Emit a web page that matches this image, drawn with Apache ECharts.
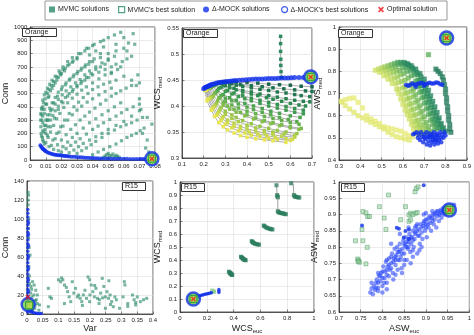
<!DOCTYPE html>
<html><head><meta charset="utf-8">
<script src="https://cdn.jsdelivr.net/npm/echarts/dist/echarts.min.js"></script>
<style>html,body{margin:0;padding:0;background:#fff}#c{width:474px;height:335px}</style>
</head><body><div id="c"></div>
<script>
// ---------------- DATA ----------------
const legendNames = ['MVMC solutions', "MVMC's best solution", 'Δ-MOCK solutions', "Δ-MOCK's best solutions", 'Optimal solution'];
const panelTitles = ['Orange', 'Orange', 'Orange', 'R15', 'R15', 'R15'];

// Panel 1: Orange, Var vs Conn
const orgVarMvmc = [
[0.007,200],[0.008,280],[0.009,350],[0.0105,420],[0.012,480],[0.014,540],[0.016,580],[0.018,620],[0.02,650],[0.0225,690],[0.025,720],[0.0275,745],[0.03,770],[0.0325,800],[0.035,820],[0.0375,840],[0.04,860],[0.045,890],[0.05,920],[0.054,940],[0.058,960],
[0.0068,250],[0.0075,300],[0.008,330],[0.009,380],[0.01,420],[0.0115,470],[0.013,520],[0.015,560],[0.017,600],[0.0195,640],[0.022,670],
[0.0072,180],[0.008,220],[0.009,260],[0.01,300],[0.011,340],[0.0125,390],[0.014,430],[0.016,470],[0.018,510],[0.0205,550],[0.023,580],[0.0255,610],[0.028,640],[0.0305,665],[0.033,690],[0.0355,715],[0.038,740],[0.041,760],
[0.008,150],[0.0095,230],[0.011,300],[0.013,370],[0.015,430],[0.0175,480],[0.02,530],[0.0225,565],[0.025,600],[0.0275,625],[0.03,650],[0.0325,675],[0.035,700],[0.0375,720],[0.04,740],[0.045,770],[0.05,800],[0.055,820],[0.06,840],
[0.0085,140],[0.01,200],[0.0115,250],[0.013,300],[0.0145,335],[0.016,370],[0.018,405],[0.02,440],[0.0225,470],[0.025,500],[0.0275,530],[0.03,560],[0.033,590],[0.036,620],[0.039,650],[0.042,680],[0.045,700],[0.048,720],
[0.009,120],[0.011,185],[0.013,250],[0.0155,315],[0.018,380],[0.021,430],[0.024,480],[0.027,515],[0.03,550],[0.0325,575],[0.035,600],[0.0375,620],[0.04,640],[0.044,660],[0.048,680],[0.052,700],[0.055,720],[0.059,740],[0.062,760],[0.065,780],
[0.012,100],[0.0145,150],[0.017,200],[0.0195,250],[0.022,300],[0.025,350],[0.028,400],[0.031,435],[0.034,470],[0.037,500],[0.04,530],[0.0435,550],[0.047,570],[0.051,585],[0.055,600],[0.06,630],
[0.015,80],[0.0175,115],[0.02,150],[0.023,190],[0.026,230],[0.029,265],[0.032,300],[0.035,330],[0.038,360],[0.0415,390],[0.045,420],[0.0485,450],[0.052,480],[0.055,500],[0.058,520],[0.0615,540],[0.065,560],[0.07,580],
[0.02,60],[0.023,85],[0.026,110],[0.029,135],[0.032,160],[0.036,195],[0.04,230],[0.0435,255],[0.047,280],[0.051,305],[0.055,330],[0.0585,355],[0.062,380],[0.066,400],[0.07,420],
[0.03,50],[0.033,70],[0.036,90],[0.039,115],[0.042,140],[0.046,170],[0.05,200],[0.054,225],[0.058,250],[0.0615,265],[0.065,280],[0.0685,300],[0.072,320],
[0.04,40],[0.0435,60],[0.047,80],[0.051,100],[0.055,120],[0.0585,145],[0.062,170],[0.065,185],[0.068,200],[0.0705,220],[0.073,240],
[0.047,20],[0.048,30],[0.049,40],[0.05,50],[0.051,35],[0.052,30],[0.053,45],[0.054,25],[0.055,35],[0.056,28],[0.057,20],[0.05,15],
[0.065,600],[0.068,560],[0.07,460],[0.072,200],[0.075,150],[0.063,880],[0.067,870],[0.06,920],[0.055,870],[0.045,800],[0.05,750],[0.075,320],[0.066,950],[0.069,640],[0.071,380],[0.074,90],[0.076,60],[0.078,270],[0.052,650],[0.058,700],[0.062,820],[0.047,850],[0.042,820],[0.038,790],
[0.0066,300],[0.007,340],[0.0075,380],[0.008,400],[0.0085,430],[0.0095,460],[0.011,500],[0.012,530],[0.0135,560],[0.015,590],[0.017,625],[0.019,655],[0.021,680],[0.024,710],[0.027,735],[0.03,760],
[0.0068,350],[0.0072,390],[0.008,450],[0.009,490],[0.01,510],[0.011,540],[0.0125,570],[0.014,600],[0.016,630],[0.0185,670],[0.021,700],[0.024,740],[0.027,770],[0.031,800],[0.036,840],[0.041,870],[0.047,900],
[0.0078,170],[0.0088,210],[0.01,260],[0.0112,300],[0.0125,340],[0.014,380],[0.016,420],[0.018,455],[0.0205,490],[0.023,520],[0.026,550],[0.029,580],[0.032,605],[0.035,640],[0.038,670],[0.042,700],[0.046,730],[0.05,760],[0.054,780],
[0.01,130],[0.0115,170],[0.013,210],[0.015,260],[0.017,310],[0.019,350],[0.0215,395],[0.024,430],[0.027,465],[0.03,495],[0.033,525],[0.036,550],[0.04,580],[0.044,610],[0.048,640],[0.052,660],[0.056,680],
[0.0135,110],[0.016,160],[0.0185,210],[0.021,255],[0.024,300],[0.027,340],[0.03,375],[0.033,405],[0.0365,435],[0.04,460],[0.044,490],[0.048,515],[0.052,540],
[0.018,70],[0.021,100],[0.024,135],[0.027,170],[0.03,200],[0.034,240],[0.038,280],[0.042,310],[0.046,340],[0.05,370],[0.054,400],[0.058,430],
[0.025,55],[0.028,75],[0.031,100],[0.034,125],[0.038,150],[0.042,175],[0.046,200],[0.05,230],[0.055,260],[0.06,290],[0.065,330],[0.07,370]
];
const orgVarMock = [[0.0065,110],[0.007,100],[0.0075,92],[0.008,85],[0.0085,80],[0.009,75],[0.0095,70],[0.01,65],[0.011,58],[0.012,52],[0.013,48],[0.014,45],[0.015,42],[0.016,40],[0.017,38],[0.018,36],[0.019,35],[0.02,33],[0.021,32],[0.022,31],[0.023,30],[0.024,28],[0.025,27],[0.0265,25],[0.028,24],[0.0295,22],[0.031,21],[0.0325,20],[0.034,18],[0.0355,17],[0.037,16],[0.0385,15],[0.04,15],[0.0415,14],[0.043,13],[0.0445,12],[0.046,12],[0.048,11],[0.05,11],[0.052,10],[0.054,10],[0.056,9],[0.058,9],[0.06,9],[0.062,9],[0.064,8],[0.066,8],[0.068,8],[0.07,8],[0.0715,8],[0.073,8]];
const orgVarBest = [0.078, 10];

// Panel 2: Orange, WCS_euc vs WCS_med (curves, top = dark green .. bottom = yellow)
const orgWcsCurves = [
[[0.3,0.447],[0.35,0.446],[0.4,0.445],[0.45,0.444],[0.5,0.442],[0.55,0.441],[0.6,0.44],[0.65,0.438],[0.7,0.437]],
[[0.29,0.446],[0.33,0.443],[0.37,0.441],[0.42,0.439],[0.47,0.437],[0.52,0.435],[0.57,0.433],[0.62,0.431],[0.67,0.429],[0.7,0.428]],
[[0.28,0.445],[0.32,0.442],[0.35,0.44],[0.38,0.438],[0.42,0.435],[0.46,0.432],[0.5,0.43],[0.54,0.427],[0.58,0.425],[0.62,0.422],[0.65,0.42],[0.69,0.418]],
[[0.27,0.444],[0.3,0.439],[0.34,0.434],[0.38,0.43],[0.42,0.427],[0.46,0.423],[0.5,0.42],[0.54,0.417],[0.58,0.414],[0.62,0.411],[0.66,0.409],[0.69,0.408]],
[[0.26,0.443],[0.29,0.439],[0.32,0.435],[0.35,0.431],[0.38,0.427],[0.42,0.423],[0.45,0.42],[0.49,0.416],[0.52,0.413],[0.56,0.409],[0.6,0.405],[0.64,0.402],[0.67,0.4]],
[[0.255,0.442],[0.28,0.436],[0.31,0.43],[0.34,0.425],[0.38,0.42],[0.42,0.415],[0.46,0.411],[0.5,0.407],[0.54,0.403],[0.58,0.399],[0.62,0.395],[0.66,0.392]],
[[0.25,0.44],[0.27,0.434],[0.3,0.428],[0.33,0.423],[0.36,0.418],[0.39,0.414],[0.42,0.41],[0.46,0.405],[0.5,0.4],[0.54,0.396],[0.58,0.392],[0.62,0.388],[0.66,0.385]],
[[0.245,0.439],[0.265,0.43],[0.29,0.422],[0.32,0.416],[0.35,0.411],[0.39,0.405],[0.43,0.4],[0.47,0.395],[0.51,0.39],[0.55,0.386],[0.6,0.381],[0.645,0.378]],
[[0.24,0.438],[0.26,0.428],[0.28,0.42],[0.3,0.415],[0.33,0.41],[0.36,0.404],[0.4,0.398],[0.43,0.393],[0.47,0.388],[0.51,0.383],[0.55,0.378],[0.59,0.374],[0.63,0.37]],
[[0.235,0.436],[0.255,0.425],[0.275,0.416],[0.3,0.408],[0.33,0.402],[0.36,0.396],[0.4,0.39],[0.44,0.385],[0.48,0.38],[0.52,0.376],[0.56,0.372],[0.6,0.368],[0.64,0.365]],
[[0.23,0.435],[0.25,0.424],[0.27,0.415],[0.29,0.407],[0.31,0.4],[0.34,0.394],[0.37,0.388],[0.4,0.383],[0.44,0.377],[0.48,0.372],[0.52,0.368],[0.56,0.364],[0.6,0.36],[0.65,0.357]],
[[0.225,0.434],[0.245,0.42],[0.265,0.41],[0.29,0.401],[0.32,0.394],[0.35,0.388],[0.39,0.381],[0.43,0.375],[0.47,0.37],[0.51,0.366],[0.55,0.362],[0.6,0.358],[0.64,0.355]],
[[0.22,0.434],[0.24,0.418],[0.26,0.405],[0.28,0.397],[0.3,0.39],[0.33,0.383],[0.35,0.378],[0.38,0.372],[0.42,0.366],[0.46,0.361],[0.5,0.357],[0.54,0.353],[0.58,0.35],[0.63,0.347]],
[[0.218,0.433],[0.235,0.416],[0.255,0.402],[0.275,0.393],[0.3,0.384],[0.33,0.376],[0.36,0.37],[0.4,0.363],[0.44,0.358],[0.48,0.353],[0.52,0.35],[0.57,0.346],[0.62,0.343]],
[[0.215,0.432],[0.23,0.415],[0.25,0.4],[0.27,0.389],[0.29,0.38],[0.31,0.373],[0.34,0.367],[0.37,0.361],[0.4,0.356],[0.44,0.352],[0.48,0.348],[0.52,0.345],[0.56,0.342],[0.62,0.34]],
[[0.212,0.431],[0.225,0.413],[0.245,0.397],[0.265,0.385],[0.285,0.376],[0.31,0.368],[0.34,0.361],[0.37,0.356],[0.41,0.35],[0.45,0.346],[0.49,0.343],[0.53,0.34],[0.58,0.337],[0.61,0.336]],
[[0.21,0.43],[0.22,0.414],[0.24,0.395],[0.26,0.382],[0.28,0.372],[0.3,0.365],[0.33,0.358],[0.36,0.352],[0.39,0.348],[0.42,0.344],[0.46,0.341],[0.5,0.338],[0.54,0.336],[0.6,0.334]],
[[0.205,0.43],[0.215,0.41],[0.235,0.392],[0.25,0.38],[0.27,0.368],[0.29,0.36],[0.31,0.354],[0.34,0.348],[0.37,0.343],[0.4,0.34],[0.44,0.337],[0.48,0.335],[0.52,0.333],[0.58,0.33]]
];
const orgWcsSpike = [[0.555,0.534],[0.555,0.52],[0.555,0.505],[0.556,0.49],[0.556,0.478],[0.557,0.466],[0.558,0.455]];
const orgWcsMock = [[0.2,0.433],[0.205,0.435],[0.21,0.436],[0.215,0.437],[0.22,0.438],[0.225,0.439],[0.23,0.44],[0.235,0.441],[0.24,0.442],[0.25,0.443],[0.26,0.444],[0.27,0.445],[0.28,0.4455],[0.29,0.446],[0.3,0.4465],[0.31,0.447],[0.32,0.4475],[0.33,0.448],[0.34,0.4485],[0.35,0.449],[0.365,0.4495],[0.38,0.45],[0.395,0.4505],[0.41,0.451],[0.425,0.4515],[0.44,0.452],[0.455,0.452],[0.47,0.452],[0.485,0.4525],[0.5,0.453],[0.515,0.453],[0.53,0.453],[0.545,0.4535],[0.56,0.454],[0.575,0.454],[0.59,0.454],[0.605,0.4545],[0.62,0.455],[0.64,0.455],[0.66,0.455]];
const orgWcsBest = [0.694, 0.456];

// Panel 3: Orange, x vs AWS_med (strands: left yellow .. right dark green)
const orgAswStrands = [
[[0.31,0.665],[0.33,0.672],[0.35,0.678],[0.37,0.68],[0.39,0.66],[0.41,0.635],[0.43,0.6],[0.45,0.585],[0.47,0.575],[0.49,0.565],[0.51,0.55],[0.53,0.545],[0.55,0.54],[0.57,0.535],[0.59,0.53],[0.61,0.52],[0.63,0.51],[0.645,0.505]],
[[0.315,0.66],[0.33,0.645],[0.35,0.63],[0.37,0.615],[0.39,0.6],[0.41,0.59],[0.43,0.58],[0.45,0.57],[0.47,0.56],[0.49,0.55],[0.51,0.54],[0.53,0.525],[0.55,0.515],[0.57,0.505],[0.59,0.5],[0.61,0.495],[0.63,0.49]],
[[0.47,0.805],[0.49,0.795],[0.51,0.78],[0.53,0.765],[0.55,0.745],[0.57,0.72],[0.58,0.7],[0.59,0.675],[0.6,0.65],[0.61,0.625],[0.62,0.605],[0.63,0.585],[0.64,0.56],[0.65,0.54],[0.66,0.52]],
[[0.485,0.81],[0.505,0.8],[0.525,0.785],[0.545,0.765],[0.565,0.745],[0.58,0.72],[0.595,0.695],[0.605,0.67],[0.615,0.645],[0.625,0.62],[0.635,0.6],[0.645,0.575],[0.655,0.555],[0.665,0.535],[0.675,0.515]],
[[0.5,0.815],[0.52,0.805],[0.54,0.79],[0.56,0.77],[0.58,0.75],[0.6,0.725],[0.61,0.7],[0.62,0.675],[0.63,0.65],[0.64,0.625],[0.65,0.6],[0.66,0.575],[0.67,0.555],[0.68,0.535],[0.69,0.52]],
[[0.515,0.82],[0.535,0.81],[0.555,0.795],[0.575,0.775],[0.595,0.755],[0.61,0.73],[0.62,0.705],[0.63,0.68],[0.64,0.655],[0.65,0.63],[0.66,0.605],[0.67,0.58],[0.68,0.56],[0.69,0.54],[0.7,0.52]],
[[0.53,0.825],[0.55,0.815],[0.57,0.8],[0.59,0.785],[0.61,0.76],[0.63,0.735],[0.64,0.71],[0.65,0.685],[0.66,0.66],[0.67,0.635],[0.68,0.61],[0.69,0.585],[0.7,0.56],[0.71,0.54],[0.72,0.525]],
[[0.545,0.83],[0.565,0.82],[0.585,0.805],[0.605,0.79],[0.625,0.77],[0.64,0.745],[0.65,0.72],[0.66,0.695],[0.67,0.67],[0.68,0.645],[0.69,0.62],[0.7,0.595],[0.71,0.57],[0.72,0.55],[0.73,0.53]],
[[0.56,0.835],[0.58,0.83],[0.6,0.815],[0.62,0.8],[0.64,0.78],[0.66,0.755],[0.67,0.73],[0.68,0.705],[0.69,0.68],[0.7,0.655],[0.71,0.63],[0.72,0.605],[0.73,0.58],[0.74,0.56],[0.75,0.54],[0.72,0.875]],
[[0.575,0.84],[0.595,0.835],[0.615,0.82],[0.635,0.805],[0.655,0.785],[0.67,0.76],[0.68,0.735],[0.69,0.71],[0.7,0.685],[0.71,0.66],[0.72,0.635],[0.73,0.61],[0.74,0.585],[0.75,0.565],[0.76,0.545]],
[[0.59,0.84],[0.61,0.835],[0.63,0.825],[0.65,0.805],[0.67,0.785],[0.68,0.76],[0.69,0.735],[0.7,0.71],[0.71,0.685],[0.72,0.66],[0.73,0.635],[0.74,0.61],[0.75,0.585],[0.76,0.565],[0.77,0.545]],
[[0.605,0.84],[0.625,0.83],[0.645,0.815],[0.665,0.795],[0.685,0.775],[0.695,0.75],[0.705,0.725],[0.715,0.7],[0.725,0.675],[0.735,0.65],[0.745,0.625],[0.755,0.6],[0.765,0.58],[0.775,0.56],[0.785,0.54]],
[[0.62,0.835],[0.64,0.825],[0.66,0.81],[0.68,0.79],[0.7,0.765],[0.71,0.74],[0.72,0.715],[0.73,0.69],[0.74,0.665],[0.75,0.64],[0.76,0.615],[0.77,0.59],[0.78,0.565],[0.79,0.545],[0.8,0.53]],
[[0.755,0.81],[0.765,0.8],[0.775,0.79],[0.785,0.775],[0.79,0.76],[0.795,0.74],[0.8,0.72],[0.8,0.7],[0.805,0.68],[0.805,0.66],[0.81,0.64],[0.81,0.62],[0.815,0.6],[0.815,0.58],[0.82,0.56],[0.82,0.54],[0.825,0.525]]
];
const orgAswMock = [[0.615,0.738],[0.625,0.735],[0.635,0.74],[0.645,0.745],[0.655,0.74],[0.66,0.73],[0.665,0.742],[0.675,0.745],[0.685,0.748],[0.695,0.745],[0.7,0.735],[0.705,0.742],[0.715,0.745],[0.725,0.748],[0.735,0.745],[0.745,0.745],[0.755,0.75],[0.765,0.748],[0.775,0.742],[0.785,0.74],
[0.648,0.516],[0.655,0.52],[0.665,0.525],[0.67,0.5],[0.675,0.515],[0.68,0.49],[0.685,0.525],[0.69,0.505],[0.695,0.48],[0.7,0.515],[0.705,0.495],[0.71,0.525],[0.712,0.47],[0.715,0.505],[0.72,0.485],[0.725,0.52],[0.728,0.465],[0.73,0.5],[0.735,0.48],[0.738,0.515],[0.74,0.49],[0.745,0.525],[0.748,0.47],[0.75,0.505],[0.755,0.485],[0.758,0.52],[0.76,0.495],[0.765,0.475],[0.768,0.51],[0.77,0.49],[0.775,0.525],[0.778,0.5],[0.78,0.48],[0.785,0.515],[0.79,0.5],[0.795,0.525],[0.8,0.51],[0.72,0.505],[0.74,0.505],[0.76,0.51],[0.7,0.5],[0.73,0.51],[0.75,0.49]];
const orgAswBest = [0.805, 0.95];

// Panel 4: R15, Var vs Conn
const r15VarMvmc = [[0.068,27],[0.073,18],[0.078,16.5],[0.04,9.5],[0.1,36],[0.107,34],[0.114,36],[0.119,30.5],[0.129,23.5],[0.134,18],[0.139,13],[0.144,34],[0.149,22],[0.154,27],[0.164,20],[0.169,16.5],[0.174,13],[0.179,20],[0.184,25],[0.189,16.5],[0.194,39],[0.199,36],[0.204,30.5],[0.209,23.5],[0.214,18],[0.219,27],[0.224,16.5],[0.229,11],[0.234,22],[0.239,37.5],[0.244,29],[0.249,18],[0.254,23.5],[0.259,16.5],[0.264,20],[0.269,13],[0.274,7.7],[0.279,18],[0.284,15],[0.305,18],[0.309,34],[0.311,30.5],[0.32,11],[0.335,20],[0.34,15],[0.345,9.5],[0.35,18],[0.36,13],[0.38,16.5],[0.068,7.7],[0.119,11],[0.199,13],[0.249,6],[0.294,6],[0.11,38],[0.125,28],[0.16,18],[0.176,9],[0.2,20],[0.215,30],[0.23,15],[0.26,35],[0.265,10],[0.32,8],[0.345,12],[0.37,15],[0.24,17],
[0.008,32],[0.013,29],[0.018,34],[0.023,30.5],[0.028,25],[0.033,20],[0.016,18],[0.02,13],[0.026,9.5],[0.01,15],[0.03,15],[0.033,11],[0.038,4],[0.012,22],[0.022,20],[0.027,14],[0.015,26],[0.025,6],[0.018,4],
[0.004,115],[0.004,120],[0.005,125],[0.004,128],[0.006,100],[0.005,80],[0.008,40],[0.01,62],[0.006,50],[0.007,70],[0.005,90]];
const r15VarMock = [[0.003,2],[0.003,6],[0.003,10],[0.003,14],[0.003,18],[0.003,22],[0.003,26],[0.003,30],[0.003,34],[0.003,38],[0.003,42],[0.003,46],[0.003,50],[0.003,54],[0.003,58],[0.003,62],[0.003,66],[0.003,70],[0.003,74],[0.003,78],[0.003,82],[0.003,86],[0.003,90],[0.003,94],[0.003,98],[0.003,102],[0.003,106],[0.003,110],
[0.005,4],[0.005,12],[0.005,24],[0.005,36],[0.005,48],[0.005,60],[0.005,72],[0.005,84],[0.005,96],
[0.006,5],[0.008,4],[0.01,3],[0.013,2.5],[0.016,2],[0.02,1.5],[0.025,1],[0.03,0.8],[0.035,0.6],[0.04,0.5],[0.045,0.4]];
const r15VarBest = [0.004, 10];
const r15VarMvmcBest = [0.007, 9];
const r15VarOptimal = [0.003, 18];

// Panel 5: R15, WCS_euc vs WCS_med
const r15WcsMvmc = [[0.365,0.31],[0.37,0.305],[0.373,0.3],[0.377,0.297],[0.38,0.295],[0.383,0.29],[0.387,0.287],[0.39,0.285],
[0.455,0.425],[0.46,0.42],[0.465,0.415],[0.47,0.41],[0.475,0.405],[0.48,0.403],[0.485,0.4],[0.49,0.398],
[0.535,0.545],[0.54,0.54],[0.545,0.535],[0.55,0.53],[0.56,0.525],[0.57,0.522],[0.58,0.52],[0.59,0.518],
[0.625,0.665],[0.63,0.66],[0.64,0.652],[0.65,0.647],[0.66,0.643],[0.67,0.64],[0.68,0.637],[0.69,0.635],
[0.73,0.775],[0.735,0.77],[0.74,0.765],[0.75,0.762],[0.76,0.76],[0.77,0.758],[0.78,0.755],[0.79,0.752],
[0.725,0.9],[0.727,0.89],[0.73,0.882],
[0.85,0.9],[0.855,0.89],[0.86,0.887],[0.87,0.885],[0.88,0.882],[0.89,0.88],
[0.72,0.975],[0.83,0.99]];
const r15WcsMvmcLight = [[0.24,0.165],[0.25,0.16],[0.255,0.155]];
const r15WcsLinks = [[[0.72,0.975],[0.725,0.9]],[[0.73,0.882],[0.73,0.775]],[[0.83,0.99],[0.845,0.985],[0.85,0.9]]];
const r15WcsMock = [[0.115,0.11],[0.125,0.115],[0.135,0.12],[0.145,0.123],[0.155,0.127],[0.165,0.13],[0.175,0.133],[0.185,0.136],[0.195,0.138],[0.205,0.14],[0.215,0.143],[0.225,0.146],[0.235,0.148],[0.29,0.15],[0.29,0.162],[0.29,0.174]];
const r15WcsBest = [0.1, 0.1];

// Panel 6: R15, ASW_euc vs ASW_med
const r15AswMvmc = [[0.738,0.819],[0.755,0.819],[0.753,0.854],[0.755,0.909],[0.762,0.905],[0.766,0.894],[0.77,0.894],[0.765,0.799],[0.743,0.763],[0.745,0.758],[0.747,0.753],[0.762,0.748],[0.814,0.96],[0.793,0.924],[0.804,0.889],[0.808,0.854],[0.853,0.924],[0.842,0.884],[0.861,0.899],[0.865,0.904],[0.876,0.904],[0.88,0.906],[0.875,0.97],[0.878,0.98],[0.882,0.985],[0.861,0.879],[0.865,0.884],[0.87,0.9],[0.744,0.756]];
const r15AswMockDark = [[0.895,0.99],[0.753,0.866],[0.833,0.859],[0.838,0.856],[0.853,0.849],[0.861,0.854],[0.849,0.829],[0.861,0.824]];
const r15AswMock = [[0.772,0.66],[0.775,0.672],[0.778,0.655],[0.78,0.68],[0.783,0.668],[0.785,0.69],[0.787,0.7],[0.79,0.675],[0.792,0.712],[0.795,0.695],[0.797,0.72],[0.8,0.705],[0.802,0.74],[0.804,0.69],[0.806,0.725],[0.808,0.755],[0.81,0.715],[0.812,0.74],[0.815,0.765],[0.817,0.73],[0.82,0.75],[0.822,0.78],[0.824,0.72],[0.826,0.765],[0.828,0.795],[0.83,0.745],[0.832,0.775],[0.834,0.8],[0.836,0.76],[0.838,0.785],[0.84,0.81],[0.842,0.77],[0.844,0.735],[0.846,0.795],[0.848,0.82],[0.85,0.78],[0.852,0.805],[0.854,0.83],[0.856,0.76],[0.858,0.795],[0.86,0.815],[0.862,0.84],[0.864,0.785],[0.866,0.81],[0.868,0.83],[0.87,0.85],[0.872,0.8],[0.874,0.825],[0.876,0.845],[0.878,0.865],[0.88,0.78],[0.882,0.835],[0.884,0.855],[0.886,0.81],[0.888,0.87],[0.89,0.845],[0.892,0.825],[0.894,0.865],[0.896,0.88],[0.898,0.85],[0.9,0.87],[0.902,0.83],[0.904,0.885],[0.906,0.86],[0.908,0.895],[0.91,0.875],[0.912,0.85],[0.914,0.89],[0.916,0.9],[0.918,0.87],[0.92,0.885],[0.922,0.905],[0.924,0.86],[0.926,0.895],[0.928,0.91],[0.93,0.88],[0.932,0.9],[0.934,0.915],[0.936,0.89],[0.938,0.905],[0.94,0.92],[0.942,0.9],[0.944,0.91],[0.946,0.925],[0.948,0.905],[0.95,0.92],[0.81,0.69],[0.83,0.715],[0.85,0.745],[0.87,0.77],[0.89,0.8],[0.8,0.68],[0.79,0.665],[0.815,0.71],[0.835,0.73],[0.855,0.8],[0.875,0.86],[0.895,0.9],[0.915,0.91],[0.86,0.86],[0.84,0.84],[0.9,0.905],[0.82,0.81],[0.965,0.93],[0.96,0.915],[0.8,0.66],[0.81,0.67],[0.825,0.7],[0.845,0.72],[0.865,0.75],[0.885,0.79],
[0.785,0.675],[0.79,0.69],[0.795,0.71],[0.8,0.725],[0.805,0.705],[0.81,0.73],[0.815,0.745],[0.82,0.735],[0.825,0.755],[0.83,0.77],[0.835,0.785],[0.84,0.76],[0.845,0.78],[0.85,0.81],[0.855,0.815],[0.86,0.8],[0.865,0.83],[0.87,0.82],[0.875,0.84],[0.88,0.85],[0.885,0.835],[0.89,0.86],[0.895,0.875],[0.9,0.885],[0.905,0.87],[0.91,0.89],[0.915,0.88],[0.92,0.9],[0.925,0.91],[0.93,0.9],[0.935,0.91],[0.94,0.91],[0.945,0.915],[0.95,0.905],[0.955,0.925],[0.82,0.77],[0.84,0.79],[0.86,0.825],[0.88,0.87],[0.9,0.86],[0.87,0.79],[0.85,0.76],[0.83,0.76],[0.81,0.76],[0.79,0.72],[0.775,0.69]];
const r15AswBest = [0.954, 0.914];

// ---------------- STYLE ----------------
const FONT = 'Liberation Sans, Arial, sans-serif';
const GREEN = '#2a8a6a';
const BLUE = '#1030e8';
const RED = '#e8161b';
const CROSS = 'path://M2,0L5,3L8,0L10,2L7,5L10,8L8,10L5,7L2,10L0,8L3,5L0,2Z';
const wcsColors = ['#1b664c','#1f704e','#23794f','#288250','#2e8a51','#359251','#3e9a50','#49a24f','#56a94e','#64b04d','#74b74c','#85be4b','#97c54a','#a9cc4a','#bbd34b','#cdda4c','#dde04e','#ebe653'];
const aswColors = ['#e7ec78','#e2e974','#d4e36b','#c6dc66','#b5d65e','#a0cd5d','#8cc65a','#76b85c','#5fae5f','#4ea45f','#3d9a63','#349262','#2a8a63','#257c5c'];

const grids = [
  {left:21, top:27, width:134, height:133},
  {left:182, top:28, width:130, height:130},
  {left:339, top:27, width:133, height:133},
  {left:21, top:181, width:132, height:133},
  {left:180, top:182, width:134, height:133},
  {left:339, top:182, width:133, height:132}
].map(g => Object.assign(g, {show:true, borderColor:'#333', borderWidth:0.8, backgroundColor:'#fff'}));

const rich = {m:{fontSize:9, color:'#222', fontFamily:FONT}, s:{fontSize:6, color:'#222', fontFamily:FONT, padding:[5,0,0,0]}};
function ax(gi, min, max, interval, name, nameGap) {
  return {
    gridIndex: gi, type:'value', min, max, interval,
    name: name || '', nameLocation:'middle', nameGap: nameGap || 10,
    nameTextStyle:{fontSize:9, color:'#222', fontFamily:FONT, rich},
    axisLine:{show:true, onZero:false, lineStyle:{color:'#333', width:0.8}},
    axisTick:{show:true, inside:true, length:2.5, lineStyle:{color:'#333', width:0.6}},
    axisLabel:{fontSize:6, color:'#222', margin:3, fontFamily:FONT, formatter: v => String(+v.toFixed(4))},
    splitLine:{show:true, lineStyle:{color:'#dedede', width:0.6}}
  };
}
const xAxes = [
  ax(0, 0, 0.08, 0.01),
  ax(1, 0.1, 0.7, 0.1),
  ax(2, 0.3, 0.9, 0.1),
  ax(3, 0, 0.4, 0.05, 'Var', 10),
  ax(4, 0, 1, 0.2, '{m|WCS}{s|euc}', 11),
  ax(5, 0.7, 1, 0.05, '{m|ASW}{s|euc}', 11)
];
const yAxes = [
  ax(0, 0, 1000, 100, 'Conn', 14),
  ax(1, 0.3, 0.55, 0.05, '{m|WCS}{s|med}', 19),
  ax(2, 0.4, 1, 0.1, '{m|AWS}{s|med}', 16),
  ax(3, 0, 140, 20, 'Conn', 14),
  ax(4, 0, 1, 0.1, '{m|WCS}{s|med}', 17),
  ax(5, 0.6, 1, 0.05, '{m|ASW}{s|med}', 19)
];

const series = [];
function sc(gi, name, data, size, color, extra) {
  series.push(Object.assign({type:'scatter', name, xAxisIndex:gi, yAxisIndex:gi, data, symbol:'rect', symbolSize:size, silent:true, animation:false, itemStyle:{color}}, extra || {}));
}
function ln(gi, name, data, color, extra) {
  series.push(Object.assign({type:'line', name, xAxisIndex:gi, yAxisIndex:gi, data, symbol:'rect', symbolSize:3.5, showSymbol:true, silent:true, animation:false, itemStyle:{color}, lineStyle:{color:'#333', width:0.5, opacity:0.8}}, extra || {}));
}
function best(gi, p, mvmcP, optP) {
  sc(gi, legendNames[3], [p], 13, 'rgba(0,0,0,0)', {symbol:'circle', z:10, itemStyle:{color:'#7fd04a', borderColor:BLUE, borderWidth:2.5}});
  sc(gi, legendNames[1], [mvmcP || p], 7, '#b5dc4a', {symbol:'rect', z:11, itemStyle:{color:'#b5dc4a', borderColor:'#1f9a3f', borderWidth:1.3}});
  sc(gi, legendNames[4], [optP || p], 5, RED, {symbol:CROSS, z:12});
}

// Panel 1
sc(0, legendNames[0], orgVarMvmc, 3.2, 'rgba(42,138,106,0.8)');
sc(0, legendNames[2], orgVarMock, 4, BLUE, {symbol:'circle'});
best(0, orgVarBest);
// Panel 2
orgWcsCurves.forEach((c, i) => ln(1, legendNames[0], c, wcsColors[i]));
ln(1, legendNames[0], orgWcsSpike, '#2f8a60', {lineStyle:{color:'#555', width:0.5}});
sc(1, legendNames[2], orgWcsMock, 5, BLUE, {symbol:'circle', z:5});
best(1, orgWcsBest);
// Panel 3
orgAswStrands.forEach((c, i) => sc(2, legendNames[0], c, 4.5, aswColors[i], {itemStyle:{color:aswColors[i], opacity:0.8, borderColor:aswColors[i], borderWidth:0.5}}));
sc(2, legendNames[2], orgAswMock, 4.5, BLUE, {symbol:'circle', z:5});
best(2, orgAswBest);
// Panel 4
sc(3, legendNames[0], r15VarMvmc, 3, 'rgba(42,138,106,0.8)');
sc(3, legendNames[2], r15VarMock, 3.5, BLUE, {symbol:'circle', z:5});
best(3, r15VarBest, r15VarMvmcBest, r15VarOptimal);
// Panel 5
r15WcsLinks.forEach(l => series.push({type:'line', name:'link', xAxisIndex:4, yAxisIndex:4, data:l, symbol:'none', silent:true, animation:false, lineStyle:{color:'#888', width:0.8}}));
sc(4, legendNames[0], r15WcsMvmc, 4, '#2a7d5c');
sc(4, legendNames[0], r15WcsMvmcLight, 4, '#8fcf8f');
sc(4, legendNames[2], r15WcsMock, 3.5, BLUE, {symbol:'circle', z:5});
best(4, r15WcsBest);
// Panel 6
sc(5, legendNames[0], r15AswMvmc, 4, '#6fb879', {itemStyle:{color:'rgba(140,200,140,0.6)', borderColor:'#4a9a6a', borderWidth:0.6}});
sc(5, legendNames[2], r15AswMock, 4.5, 'rgba(40,70,250,0.72)', {symbol:'circle', z:4});
sc(5, legendNames[2], r15AswMockDark, 4, BLUE, {symbol:'circle', z:5});
best(5, r15AswBest);

const titleBoxes = [[22,28],[183,29],[338,29],[122,182],[181,183],[341,183]];
const titles = panelTitles.map((t, i) => ({text:t, left:titleBoxes[i][0], top:titleBoxes[i][1], padding:[1,8,1,3], borderColor:'#333', borderWidth:1, backgroundColor:'#fff', textStyle:{fontSize:7, fontWeight:'normal', color:'#222', fontFamily:FONT}}));

const legendIcons = [
  {icon:'rect', itemStyle:{color:GREEN}},
  {icon:'rect', itemStyle:{color:'#fff', borderColor:GREEN, borderWidth:1.2}},
  {icon:'circle', itemStyle:{color:BLUE}},
  {icon:'circle', itemStyle:{color:'#fff', borderColor:BLUE, borderWidth:1.2}},
  {icon:CROSS, itemStyle:{color:RED}}
];
const legendX = [49, 118, 203, 281, 378];
const legends = legendNames.map((n, i) => ({left:legendX[i], top:6, padding:0, itemWidth:6, itemHeight:6, itemGap:0, selectedMode:false,
  textStyle:{fontSize:7, color:'#222', fontFamily:FONT, padding:[0,0,0,-2]},
  data:[Object.assign({name:n}, legendIcons[i])]}));

const chart = echarts.init(document.getElementById('c'), null, {renderer:'canvas'});
chart.setOption({
  animation:false,
  backgroundColor:'#fff',
  title: titles,
  legend: legends,
  grid: grids,
  xAxis: xAxes,
  yAxis: yAxes,
  series,
  graphic:[{type:'rect', shape:{x:45, y:1, width:402, height:19}, style:{fill:'none', stroke:'#999', lineWidth:1}, z:100}]
});
</script></body></html>
